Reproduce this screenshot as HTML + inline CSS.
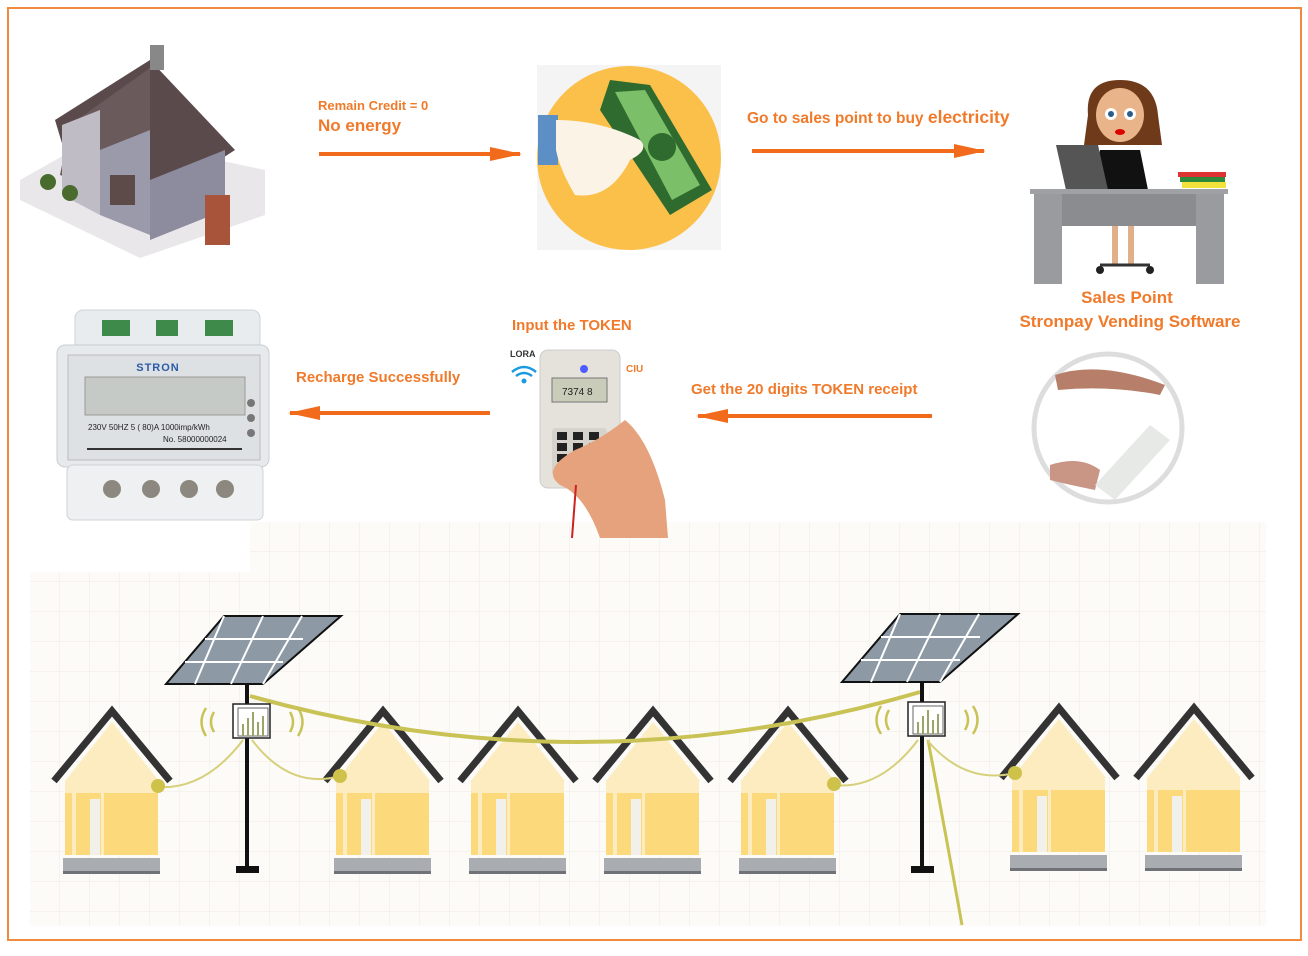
<!DOCTYPE html>
<html><head><meta charset="utf-8"><style>
html,body{margin:0;padding:0;background:#fff;}
body{width:1308px;height:951px;overflow:hidden;font-family:"Liberation Sans",sans-serif;}
</style></head><body>
<svg width="1308" height="951" viewBox="0 0 1308 951" xmlns="http://www.w3.org/2000/svg" font-family="Liberation Sans, sans-serif">
<defs>
<pattern id="grid" width="30" height="30" patternUnits="userSpaceOnUse" x="30" y="522">
<rect width="30" height="30" fill="#fdfbf8"/>
<path d="M30 0V30H0" fill="none" stroke="#efe9e3" stroke-width="1"/>
</pattern>
<g id="house">
<polygon points="-47,781 0,722 47,781" fill="#fdecc0"/>
<rect x="-47" y="780" width="93" height="14" fill="#fdecc0"/>
<rect x="-47" y="793" width="93" height="62" fill="#fcd97a"/>
<rect x="-40" y="793" width="4" height="62" fill="#fdecc0"/>
<rect x="-22" y="799" width="10" height="56" fill="#f2f0ea"/>
<rect x="-11" y="793" width="3" height="62" fill="#fdecc0"/>
<polyline points="-58,781 0,711 58,781" fill="none" stroke="#333" stroke-width="7"/>
<rect x="-49" y="858" width="97" height="14" fill="#a9adb1"/>
<rect x="-49" y="871" width="97" height="3" fill="#6f7377"/>
</g>
<marker id="ah" markerWidth="32" markerHeight="16" refX="30" refY="8" orient="auto" markerUnits="userSpaceOnUse"><path d="M0,1 L32,8 L0,15z" fill="#f26a1b"/></marker>
</defs>
<rect x="8" y="8" width="1293" height="932" fill="none" stroke="#f08a3c" stroke-width="2"/>

<rect x="30" y="522" width="1236" height="404" fill="url(#grid)"/>
<rect x="30" y="522" width="220" height="50" fill="#fff"/>

<use href="#house" x="112" y="0"/>
<use href="#house" x="383" y="0"/>
<use href="#house" x="518" y="0"/>
<use href="#house" x="653" y="0"/>
<use href="#house" x="788" y="0"/>
<use href="#house" x="1059" y="-3"/>
<use href="#house" x="1194" y="-3"/>

<path d="M250,696 Q585,790 920,692" fill="none" stroke="#c9c255" stroke-width="4"/>
<path d="M928,740 Q945,830 962,925" fill="none" stroke="#c9c255" stroke-width="3"/>
<path d="M243,740 Q205,790 158,787" fill="none" stroke="#d7d07a" stroke-width="2"/>
<path d="M252,740 Q290,790 340,776" fill="none" stroke="#d7d07a" stroke-width="2"/>
<path d="M918,740 Q880,790 834,785" fill="none" stroke="#d7d07a" stroke-width="2"/>
<path d="M927,740 Q965,785 1015,773" fill="none" stroke="#d7d07a" stroke-width="2"/>
<circle cx="158" cy="786" r="7" fill="#cfc24a"/>
<circle cx="340" cy="776" r="7" fill="#cfc24a"/>
<circle cx="834" cy="784" r="7" fill="#cfc24a"/>
<circle cx="1015" cy="773" r="7" fill="#cfc24a"/>

<g>
<rect x="245" y="684" width="4" height="185" fill="#111"/>
<rect x="236" y="866" width="23" height="7" fill="#111"/>
<polygon points="166,684 224,616 341,616 263,684" fill="#8d9aa6" stroke="#111" stroke-width="2"/>
<path d="M185,662 L283,662 M205,639 L303,639 M224,616 L195,684 M263,616 L231,684 M302,616 L263,684" stroke="#fff" stroke-width="2" fill="none"/>
<rect x="233" y="704" width="37" height="34" fill="#fff" stroke="#222" stroke-width="1.5"/>
<path d="M238,708h30v28h-30z" fill="none" stroke="#666"/>
<path d="M243,736v-12M248,736v-18M253,736v-24M258,736v-14M263,736v-20" stroke="#9aa567" stroke-width="2"/>
<path d="M214,712 q-6,10 0,20 M206,708 q-9,14 0,28 M290,712 q6,10 0,20 M298,708 q9,14 0,28" fill="none" stroke="#c9c255" stroke-width="2.5"/>
</g>
<g>
<rect x="920" y="682" width="4" height="187" fill="#111"/>
<rect x="911" y="866" width="23" height="7" fill="#111"/>
<polygon points="842,682 900,614 1018,614 940,682" fill="#8d9aa6" stroke="#111" stroke-width="2"/>
<path d="M861,660 L960,660 M881,637 L980,637 M900,614 L871,682 M940,614 L907,682 M979,614 L940,682" stroke="#fff" stroke-width="2" fill="none"/>
<rect x="908" y="702" width="37" height="34" fill="#fff" stroke="#222" stroke-width="1.5"/>
<path d="M913,706h30v28h-30z" fill="none" stroke="#666"/>
<path d="M918,734v-12M923,734v-18M928,734v-24M933,734v-14M938,734v-20" stroke="#9aa567" stroke-width="2"/>
<path d="M889,710 q-6,10 0,20 M881,706 q-9,14 0,28 M965,710 q6,10 0,20 M973,706 q9,14 0,28" fill="none" stroke="#c9c255" stroke-width="2.5"/>
</g>

<g>
<polygon points="20,180 100,135 265,170 265,215 140,258 20,200" fill="#eae7ea"/>
<polygon points="55,120 150,60 235,150 150,205 70,170" fill="#5a4a4c"/>
<polygon points="70,125 150,68 150,205 60,175" fill="#6a5a5c"/>
<polygon points="62,125 100,110 100,215 62,195" fill="#bfbcc6"/>
<polygon points="100,150 150,130 150,235 100,215" fill="#9a9aab"/>
<polygon points="150,180 225,150 225,210 150,240" fill="#8c8c9e"/>
<rect x="150" y="45" width="14" height="25" fill="#888"/>
<rect x="110" y="175" width="25" height="30" fill="#5d4b4a"/>
<rect x="205" y="195" width="25" height="50" fill="#a7543a"/>
<circle cx="48" cy="182" r="8" fill="#4a6b2e"/>
<circle cx="70" cy="193" r="8" fill="#4a6b2e"/>
</g>

<rect x="537" y="65" width="184" height="185" fill="#f4f4f4"/>
<circle cx="629" cy="158" r="92" fill="#fbc04a"/>
<rect x="538" y="115" width="20" height="50" fill="#5d8fc7"/>
<polygon points="610,80 650,85 712,190 670,215 600,110" fill="#2f6b2e"/>
<polygon points="615,92 645,90 700,185 672,200" fill="#7bbf68"/>
<circle cx="662" cy="147" r="14" fill="#2f6b2e"/>
<path d="M556,120 Q600,120 640,140 Q650,150 630,160 Q610,200 575,195 Q560,170 556,150z" fill="#fbf3e6"/>

<g>
<path d="M1088,115 Q1085,80 1120,80 Q1155,80 1158,115 L1162,145 L1084,145z" fill="#6e3a1a"/>
<ellipse cx="1120" cy="115" rx="24" ry="27" fill="#e9b48a"/>
<circle cx="1111" cy="114" r="6" fill="#fff"/><circle cx="1130" cy="114" r="6" fill="#fff"/>
<circle cx="1111" cy="114" r="3" fill="#2a5d8a"/><circle cx="1130" cy="114" r="3" fill="#2a5d8a"/>
<ellipse cx="1120" cy="132" rx="5" ry="3" fill="#d00"/>
<path d="M1100,150 L1140,150 L1148,190 L1094,190z" fill="#111"/>
<polygon points="1056,145 1098,145 1108,190 1066,190" fill="#555"/>
<rect x="1178" y="172" width="48" height="5" fill="#d33"/>
<rect x="1180" y="177" width="45" height="5" fill="#2e8a3a"/>
<rect x="1182" y="182" width="44" height="6" fill="#f3e23b"/>
<rect x="1030" y="189" width="198" height="5" fill="#a0a1a4"/>
<rect x="1034" y="194" width="28" height="90" fill="#9a9b9e"/>
<rect x="1196" y="194" width="28" height="90" fill="#9a9b9e"/>
<rect x="1062" y="194" width="134" height="32" fill="#8b8c8f"/>
<rect x="1112" y="226" width="6" height="40" fill="#e0b08a"/><rect x="1128" y="226" width="6" height="40" fill="#e0b08a"/>
<path d="M1100,265 L1150,265" stroke="#333" stroke-width="3"/>
<circle cx="1100" cy="270" r="4" fill="#222"/><circle cx="1150" cy="270" r="4" fill="#222"/>
</g>
<text x="1127" y="303" text-anchor="middle" font-size="17" font-weight="bold" fill="#f07a2a">Sales Point</text>
<text x="1130" y="327" text-anchor="middle" font-size="17" font-weight="bold" fill="#f07a2a">Stronpay Vending Software</text>

<circle cx="1108" cy="428" r="74" fill="#fff" stroke="#ddd" stroke-width="5"/>
<path d="M1055,375 Q1100,360 1165,385 L1160,395 Q1110,385 1058,390z" fill="#b77f6a"/>
<path d="M1050,465 Q1080,455 1100,470 L1095,490 Q1070,485 1050,480z" fill="#c99585"/>
<polygon points="1095,485 1150,425 1170,440 1115,500" fill="#e7e9e6"/>

<g>
<rect x="75" y="310" width="185" height="40" rx="8" fill="#e9ecee" stroke="#cfd3d6"/>
<rect x="102" y="320" width="28" height="16" fill="#3d8a4a"/>
<rect x="156" y="320" width="22" height="16" fill="#3d8a4a"/>
<rect x="205" y="320" width="28" height="16" fill="#3d8a4a"/>
<rect x="57" y="345" width="212" height="122" rx="8" fill="#e7eaec" stroke="#c9cdd0"/>
<rect x="68" y="355" width="192" height="105" fill="#dde1e3" stroke="#bbb"/>
<text x="158" y="371" text-anchor="middle" font-size="11" font-weight="bold" fill="#2a5aa8" letter-spacing="1">STRON</text>
<rect x="85" y="377" width="160" height="38" fill="#c6cac6" stroke="#999"/>
<circle cx="251" cy="403" r="4" fill="#777"/><circle cx="251" cy="418" r="4" fill="#777"/><circle cx="251" cy="433" r="4" fill="#777"/>
<text x="88" y="430" font-size="8" fill="#222">230V  50HZ  5 ( 80)A  1000imp/kWh</text>
<text x="163" y="442" font-size="8" fill="#222">No. 58000000024</text>
<rect x="87" y="448" width="155" height="2" fill="#333"/>
<rect x="67" y="465" width="196" height="55" rx="6" fill="#eef0f1" stroke="#cfd3d6"/>
<circle cx="112" cy="489" r="9" fill="#8c8880"/><circle cx="151" cy="489" r="9" fill="#8c8880"/><circle cx="189" cy="489" r="9" fill="#8c8880"/><circle cx="225" cy="489" r="9" fill="#8c8880"/>
</g>

<g>
<rect x="540" y="350" width="80" height="138" rx="8" fill="#e5e2dc" stroke="#ccc"/>
<circle cx="584" cy="369" r="4" fill="#4d5cff"/>
<rect x="552" y="378" width="55" height="24" fill="#c8ccb8" stroke="#777"/>
<text x="562" y="395" font-size="10" fill="#222">7374 8</text>
<rect x="552" y="428" width="55" height="48" rx="4" fill="#d6d3cd"/>
<g fill="#222"><rect x="557" y="432" width="10" height="8"/><rect x="573" y="432" width="10" height="8"/><rect x="589" y="432" width="10" height="8"/><rect x="557" y="443" width="10" height="8"/><rect x="573" y="443" width="10" height="8"/><rect x="589" y="443" width="10" height="8"/><rect x="557" y="454" width="10" height="8"/><rect x="557" y="465" width="10" height="8"/></g>
<path d="M575,450 Q600,440 625,420 Q650,440 665,500 L668,538 L600,538 Q585,495 560,485 Q540,470 575,450z" fill="#e6a27c"/>
<path d="M576,485 L572,538" stroke="#c22" stroke-width="2"/>
</g>
<text x="510" y="357" font-size="9" font-weight="bold" fill="#333">LORA</text>
<text x="626" y="372" font-size="10" font-weight="bold" fill="#f07a2a">CIU</text>
<path d="M512,372 q12,-10 24,0 M516,376 q8,-6 16,0" fill="none" stroke="#1a9ae0" stroke-width="2.5"/>
<circle cx="524" cy="381" r="2.5" fill="#1a9ae0"/>

<g fill="#f07a2a" font-weight="bold">
<text x="318" y="110" font-size="13">Remain Credit = 0</text>
<text x="318" y="131" font-size="17">No energy</text>
<text x="747" y="123" font-size="15.5">Go to sales point to buy <tspan font-size="17.5">electricity</tspan></text>
<text x="512" y="330" font-size="15">Input the TOKEN</text>
<text x="296" y="382" font-size="15">Recharge Successfully</text>
<text x="691" y="394" font-size="15">Get the 20 digits TOKEN receipt</text>
</g>
<g stroke="#f26a1b" stroke-width="4" marker-end="url(#ah)">
<line x1="319" y1="154" x2="520" y2="154"/>
<line x1="752" y1="151" x2="984" y2="151"/>
<line x1="490" y1="413" x2="290" y2="413"/>
<line x1="932" y1="416" x2="698" y2="416"/>
</g>
</svg>
</body></html>
